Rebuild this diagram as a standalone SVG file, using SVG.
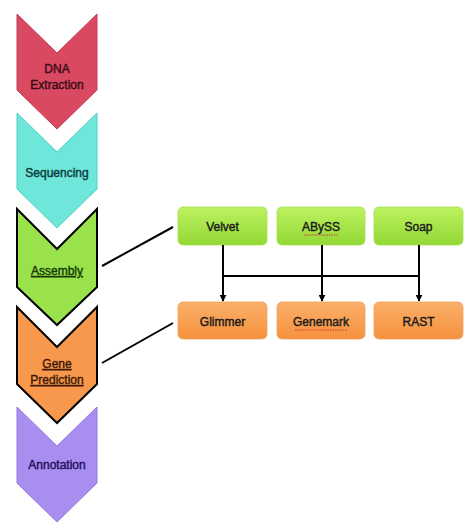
<svg xmlns="http://www.w3.org/2000/svg" width="474" height="526" viewBox="0 0 474 526">
<defs>
<linearGradient id="gG" x1="0" y1="0" x2="0" y2="1"><stop offset="0" stop-color="#bdf260"/><stop offset="1" stop-color="#92d835"/></linearGradient>
<linearGradient id="gO" x1="0" y1="0" x2="0" y2="1"><stop offset="0" stop-color="#fbb06a"/><stop offset="1" stop-color="#f5913d"/></linearGradient>
<marker id="ah" viewBox="0 0 10 10" refX="9" refY="5" markerWidth="7" markerHeight="7" orient="auto" markerUnits="userSpaceOnUse"><path d="M0,0 L10,5 L0,10 Z" fill="#000"/></marker>
</defs>
<style>
text{font-family:"Liberation Sans",Arial,sans-serif;font-size:12px;text-anchor:middle;stroke-width:0.4px}
.bt{fill:#1a1a1a;stroke:#1a1a1a}
.conn{stroke:#000;stroke-width:2;fill:none}
.sp{stroke:#e03030;stroke-width:1;fill:none;stroke-dasharray:1.5 1}
</style>
<rect width="474" height="526" fill="#fff"/>

<g id="dna">
<path d="M17,14 L57,53 L97,14 L97,90 L57,129 L17,90 Z" fill="#d94a62" stroke="#c43a55" stroke-width="1"/>
<text x="57" y="73" fill="#3b0a14" stroke="#3b0a14">DNA</text>
<text x="57" y="89" fill="#3b0a14" stroke="#3b0a14">Extraction</text>
</g>
<g id="sequencing">
<path d="M17,113 L57,152 L97,113 L97,189 L57,228 L17,189 Z" fill="#6fe6da" stroke="#4fd0c4" stroke-width="1"/>
<text x="57" y="177" fill="#0b3b3b" stroke="#0b3b3b">Sequencing</text>
</g>
<g id="assembly">
<path d="M17,209 L57,249 L97,209 L97,287 L57,325 L17,287 Z" fill="#9ae24c" stroke="#000" stroke-width="2"/>
<text x="57" y="275" fill="#173a05" stroke="#173a05" text-decoration="underline">Assembly</text>
</g>
<g id="geneprediction">
<path d="M17,307 L57,347 L97,307 L97,384 L57,423 L17,384 Z" fill="#f8984c" stroke="#000" stroke-width="2"/>
<text x="57" y="368" fill="#3d1a05" stroke="#3d1a05" text-decoration="underline">Gene</text>
<text x="57" y="384" fill="#3d1a05" stroke="#3d1a05" text-decoration="underline">Prediction</text>
</g>
<g id="annotation">
<path d="M17,407 L57,446 L97,407 L97,483 L57,522 L17,483 Z" fill="#a98ef0" stroke="#9478e0" stroke-width="1"/>
<text x="57" y="469" fill="#24105a" stroke="#24105a">Annotation</text>
</g>

<g id="velvet"><rect x="178" y="207" width="89" height="38" rx="5" fill="url(#gG)" stroke="#a6e050" stroke-width="0.8"/><text class="bt" x="222.5" y="231">Velvet</text></g>
<g id="abyss"><rect x="277" y="207" width="88" height="38" rx="5" fill="url(#gG)" stroke="#a6e050" stroke-width="0.8"/><text class="bt" x="321" y="231">ABySS</text><path class="sp" d="M304,235 L338,235"/></g>
<g id="soap"><rect x="374" y="207" width="89" height="38" rx="5" fill="url(#gG)" stroke="#a6e050" stroke-width="0.8"/><text class="bt" x="418.5" y="231">Soap</text></g>
<g id="glimmer"><rect x="178" y="302" width="89" height="37" rx="5" fill="url(#gO)" stroke="#f5a060" stroke-width="0.8"/><text class="bt" x="222.5" y="326">Glimmer</text></g>
<g id="genemark"><rect x="277" y="302" width="88" height="37" rx="5" fill="url(#gO)" stroke="#f5a060" stroke-width="0.8"/><text class="bt" x="321" y="326">Genemark</text><path class="sp" d="M295,330 L347,330"/></g>
<g id="rast"><rect x="374" y="302" width="89" height="37" rx="5" fill="url(#gO)" stroke="#f5a060" stroke-width="0.8"/><text class="bt" x="418.5" y="326">RAST</text></g>

<g id="connectors">
<line class="conn" x1="102" y1="266" x2="173" y2="227"/>
<line class="conn" x1="102" y1="363" x2="173" y2="323"/>
<line class="conn" x1="223" y1="276" x2="419" y2="276"/>
<line class="conn" x1="223" y1="245" x2="223" y2="301" marker-end="url(#ah)"/>
<line class="conn" x1="322" y1="245" x2="322" y2="301" marker-end="url(#ah)"/>
<line class="conn" x1="419" y1="245" x2="419" y2="301" marker-end="url(#ah)"/>
</g>
</svg>
